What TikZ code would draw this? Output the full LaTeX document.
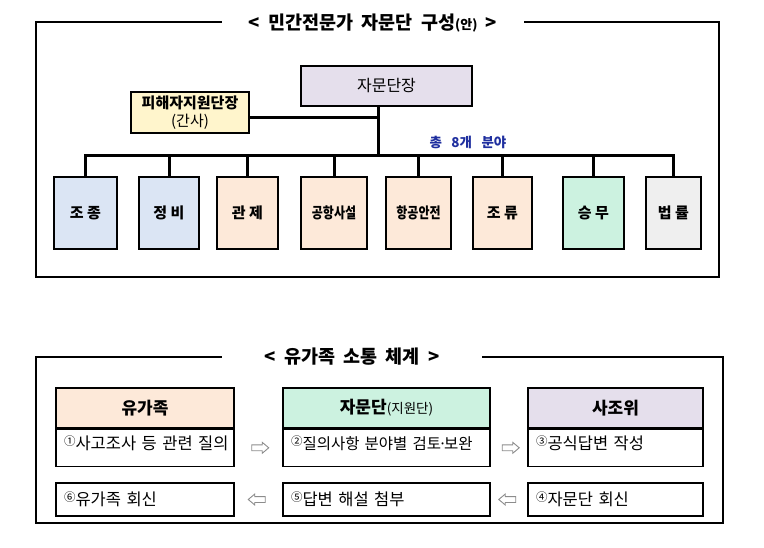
\documentclass[tikz,border=0pt]{standalone}
\usepackage{fontspec}
\setmainfont{Noto Sans CJK KR}
\newfontfamily\narrowfont[FakeStretch=0.8]{Noto Sans CJK KR}
\usetikzlibrary{positioning,calc,shapes.arrows}
\definecolor{lav}{HTML}{E5DFEC}
\definecolor{yel}{HTML}{FFF5CC}
\definecolor{sky}{HTML}{DBE5F4}
\definecolor{peach}{HTML}{FDE9D9}
\definecolor{mint}{HTML}{CCF2E0}
\definecolor{pale}{HTML}{EFEFEF}
\definecolor{navy}{HTML}{1F2F9F}
\newcommand\fs[1]{\fontsize{#1}{#1}\selectfont}
\newcommand\wide{\spaceskip=0.45em\relax}
\newcommand\cnum[1]{\raisebox{4pt}{\fs{11.5}#1}}

\begin{document}
\begin{tikzpicture}[x=1pt,y=-1pt,inner sep=0pt]
  \useasboundingbox[fill=white](0,0)rectangle(764,547);
  \tikzstyle{frame}=[draw=black,line width=1.3pt]
  \tikzstyle{ttl}=[fill=white,font=\bfseries\fs{18.5}\wide]
  \tikzstyle{f}=[draw=black,line width=1.3pt,minimum height=72pt,font=\bfseries\fs{15}]
  \tikzstyle{e}=[draw=black,line width=3pt]
  \tikzstyle{hd}=[draw=black,line width=1.3pt,minimum height=40pt,font=\bfseries\fs{17}]
  \tikzstyle{q}=[draw=black,line width=1.3pt,inner xsep=8pt,align=left,font=\fs{16.5}\wide]
  \tikzstyle{arr}=[single arrow,draw=black!45,fill=white,line width=0.9pt,minimum height=17pt,inner ysep=2.5pt,inner xsep=0pt,single arrow head extend=2.5pt,single arrow tip angle=80]
  % 자문단 구성
  \draw[frame](36,22)rectangle(719,277);
  \node[ttl,inner xsep=27pt](t1)at(373,23){< 민간전문가 자문단 구성{\fs{13}(안)} >};
  \node[f,fill=lav,minimum width=171pt,minimum height=40pt,font=\fs{16}](chief)at(386.5,86){자문단장};
  \node[f,fill=yel,minimum width=118pt,minimum height=41pt,align=center,font=\fontsize{15}{18}\selectfont](aide)at(190,112.5){{\bfseries 피해자지원단장}\\(간사)};
  \node[text=navy,font=\bfseries\fs{13.5}](sum)at(468,142){총\hspace{0.7em}8개\hspace{0.7em}분야};
  \coordinate(bus)at(378,155);
  \coordinate(tie)at(378,117);
  \foreach\n/\x/\w/\c/\t in{b1/85.5/63/sky/조 종,b2/169/60/sky/정 비,b3/247.5/61/peach/관 제,b4/334/66/peach/{\narrowfont 공항사설},b5/418.5/65/peach/{\narrowfont 항공안전},b6/502.5/59/peach/조 류,b7/593.5/61/mint/승 무,b8/673.5/55/pale/법 률}
    {\node[f,fill=\c,minimum width=\w pt](\n)at(\x,213){\t};}
  \draw[e](chief.south-|bus)--(bus);
  \draw[e](aide.east|-tie)--(tie);
  \draw[e](b1.north)|-(b8.north|-bus)--(b8.north);
  \foreach\i in{2,...,7}{\draw[e](b\i.north)--(b\i.north|-bus);}
  % 유가족 소통
  \draw[frame](36,357)rectangle(723,523);
  \node[ttl,inner xsep=43pt](t2)at(352,357){< 유가족 소통 체계 >};
  \node[hd,fill=peach,minimum width=178pt](h1)at(145,408){유가족};
  \node[hd,fill=mint,minimum width=207pt](h2)at(386.5,408){자문단{\mdseries\fs{13.5}(지원단)}};
  \node[hd,fill=lav,minimum width=175pt](h3)at(615.5,408){사조위};
  \tikzstyle{top}=[q,minimum height=37pt,text height=20pt,text depth=17pt]
  \node[top,text width=162pt,below=0pt of h1](q1){\mbox{\cnum{①}사고조사 등 관련 질의}};
  \node[top,text width=191pt,font=\fs{15.5}\wide,below=0pt of h2](q2){\mbox{\cnum{②}질의사항 분야별 검토\makebox[3pt]{·}보완}};
  \node[top,text width=159pt,below=0pt of h3](q3){\mbox{\cnum{③}공식답변 작성}};
  \node[q,text width=162pt,minimum height=33pt](r1)at(145,499.5){\mbox{\cnum{⑥}유가족 회신}};
  \node[q,text width=191pt,minimum height=33pt](r2)at(386.5,499.5){\mbox{\cnum{⑤}답변 해설 첨부}};
  \node[q,text width=159pt,minimum height=33pt](r3)at(615.5,499.5){\mbox{\cnum{④}자문단 회신}};
  \node[arr](a1)at($(q1.east)!0.5!(q2.west)$){};
  \node[arr](a2)at($(q2.east)!0.5!(q3.west)$){};
  \node[arr,shape border rotate=180](a3)at($(r2.east)!0.5!(r3.west)$){};
  \node[arr,shape border rotate=180](a4)at($(r1.east)!0.5!(r2.west)$){};
\end{tikzpicture}
\end{document}
